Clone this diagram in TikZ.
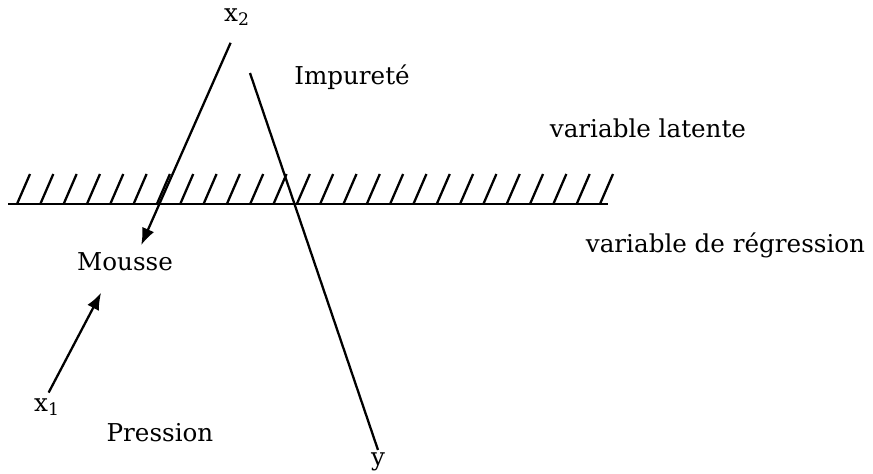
\documentclass[tikz,border=0pt]{standalone}
\usepackage{amsmath,amssymb}
\usepackage{fontspec}
\setmainfont{DejaVu Serif}
\usetikzlibrary{arrows.meta}

\begin{document}
\begin{tikzpicture}[line width=1.3pt,>={Latex[length=3.4mm,width=2.6mm]},
  lbl/.style={font=\fontsize{14}{17}\selectfont,inner sep=1pt}]
\useasboundingbox (0,0) rectangle (17.46,9.46);
% hatched boundary
\draw (0.16,5.38) -- (12.16,5.38);
\foreach \i in {0,...,25}
  \draw (0.34+0.4664*\i,5.38) -- ++(0.26,0.6);
% labels
\node[lbl] (x2) at (4.74,9.12) {x\textsubscript{2}};
\node[lbl] (impurete) at (7.04,7.92) {Impureté};
\node[lbl,anchor=west] (latente) at (10.94,6.9) {variable latente};
\node[lbl,anchor=west] (regression) at (11.66,4.56) {variable de régression};
\node[lbl] (mousse) at (2.5,4.22) {Mousse};
\node[lbl] (x1) at (0.94,1.32) {x\textsubscript{1}};
\node[lbl] (pression) at (3.2,0.8) {Pression};
\node[lbl] (y) at (7.56,0.22) {y};
\coordinate (ytop) at (5.0,8.0);
% arrows
\draw[->,shorten <=9pt,shorten >=3pt] (x2.south) -- ([xshift=8pt]mousse.north);
\draw[->,shorten <=2pt,shorten >=12pt] (x1.north) -- ([xshift=-8pt]mousse.south);
\draw (ytop) -- (y.north);
\end{tikzpicture}
\end{document}
